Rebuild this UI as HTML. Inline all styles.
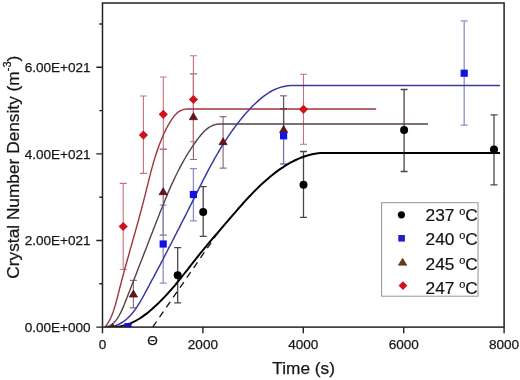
<!DOCTYPE html>
<html><head><meta charset="utf-8"><title>Crystal Number Density vs Time</title>
<style>html,body{margin:0;padding:0;background:#fff}svg{display:block}</style></head>
<body>
<svg width="520" height="380" viewBox="0 0 520 380">
<rect width="520" height="380" fill="#ffffff"/>
<defs><clipPath id="pc"><rect x="102.5" y="3.0" width="401.6" height="324.1"/></clipPath></defs>
<g clip-path="url(#pc)">
<path d="M133.4 280.4 V307.8 M129.9 280.4 H136.9 M129.9 307.8 H136.9" stroke="#8d6f76" stroke-width="1.2" fill="none"/>
<path d="M163.2 149.2 V235.1 M159.7 149.2 H166.7 M159.7 235.1 H166.7" stroke="#8d6f76" stroke-width="1.2" fill="none"/>
<path d="M193.4 73.9 V159.5 M189.9 73.9 H196.9 M189.9 159.5 H196.9" stroke="#8d6f76" stroke-width="1.2" fill="none"/>
<path d="M223.1 116.6 V168.2 M219.6 116.6 H226.6 M219.6 168.2 H226.6" stroke="#8d6f76" stroke-width="1.2" fill="none"/>
<path d="M123.2 183.4 V269.5 M119.7 183.4 H126.7 M119.7 269.5 H126.7" stroke="#c6727a" stroke-width="1.1" fill="none"/>
<path d="M143.4 96.0 V173.4 M139.9 96.0 H146.9 M139.9 173.4 H146.9" stroke="#c6727a" stroke-width="1.1" fill="none"/>
<path d="M163.3 77.0 V149.5 M159.8 77.0 H166.8 M159.8 149.5 H166.8" stroke="#c6727a" stroke-width="1.1" fill="none"/>
<path d="M193.4 55.8 V141.8 M189.9 55.8 H196.9 M189.9 141.8 H196.9" stroke="#c6727a" stroke-width="1.1" fill="none"/>
<path d="M303.5 74.2 V144.3 M300.0 74.2 H307.0 M300.0 144.3 H307.0" stroke="#c6727a" stroke-width="1.1" fill="none"/>
<path d="M163.2 205.2 V283.2 M159.7 205.2 H166.7 M159.7 283.2 H166.7" stroke="#8e8ec6" stroke-width="1.3" fill="none"/>
<path d="M193.4 168.7 V220.8 M189.9 168.7 H196.9 M189.9 220.8 H196.9" stroke="#8e8ec6" stroke-width="1.3" fill="none"/>
<path d="M283.6 108.9 V164.0 M280.1 108.9 H287.1 M280.1 164.0 H287.1" stroke="#7878b0" stroke-width="1.3" fill="none"/>
<path d="M464.2 20.8 V125.1 M460.7 20.8 H467.7 M460.7 125.1 H467.7" stroke="#8e8ec6" stroke-width="1.3" fill="none"/>
<path d="M283.6 95.7 V130 M280.2 95.7 H287" stroke="#5e5862" stroke-width="1.3" fill="none"/>
<path d="M280.2 95.7 H287" stroke="#9a8a8e" stroke-width="1.2" fill="none"/>
<path d="M280.2 108.9 H287" stroke="#34345e" stroke-width="1.3" fill="none"/>
<path d="M177.7 247.6 V302.9 M174.2 247.6 H181.2 M174.2 302.9 H181.2" stroke="#484848" stroke-width="1.3" fill="none"/>
<path d="M203.2 186.6 V236.3 M199.7 186.6 H206.7 M199.7 236.3 H206.7" stroke="#484848" stroke-width="1.3" fill="none"/>
<path d="M303.5 151.5 V217.4 M300.0 151.5 H307.0 M300.0 217.4 H307.0" stroke="#484848" stroke-width="1.3" fill="none"/>
<path d="M404.1 89.5 V171.5 M400.6 89.5 H407.6 M400.6 171.5 H407.6" stroke="#484848" stroke-width="1.3" fill="none"/>
<path d="M494.0 114.9 V184.8 M490.5 114.9 H497.5 M490.5 184.8 H497.5" stroke="#484848" stroke-width="1.3" fill="none"/>
<path d="M105.0 327.0 L106.9 324.6 L108.5 322.2 L109.9 319.6 L111.2 317.0 L112.3 314.2 L113.3 311.5 L114.2 308.6 L115.1 305.8 L115.9 302.9 L116.7 300.0 L117.5 297.0 L118.2 294.1 L119.0 291.1 L119.7 288.2 L120.5 285.3 L121.2 282.3 L122.0 279.4 L122.8 276.5 L123.6 273.7 L124.3 270.8 L125.1 267.9 L125.9 265.0 L126.7 262.2 L127.5 259.3 L128.3 256.5 L129.1 253.6 L129.9 250.8 L130.7 247.9 L131.5 245.1 L132.3 242.2 L133.1 239.4 L133.9 236.5 L134.7 233.7 L135.5 230.9 L136.3 228.0 L137.1 225.2 L137.9 222.3 L138.7 219.5 L139.4 216.6 L140.2 213.7 L141.0 210.9 L141.7 208.0 L142.5 205.1 L143.3 202.2 L144.0 199.3 L144.8 196.4 L145.5 193.5 L146.2 190.6 L146.9 187.6 L147.7 184.7 L148.4 181.8 L149.1 178.8 L149.9 175.9 L150.6 172.9 L151.4 170.0 L152.2 167.1 L153.0 164.2 L153.8 161.3 L154.7 158.4 L155.6 155.5 L156.5 152.7 L157.5 149.8 L158.5 147.0 L159.5 144.2 L160.6 141.4 L161.7 138.7 L162.9 136.0 L164.1 133.3 L165.4 130.6 L166.7 128.0 L168.1 125.4 L169.6 122.9 L171.1 120.4 L172.8 117.9 L174.5 115.7 L176.4 113.6 L178.6 111.8 L181.1 110.4 L183.8 109.4 L187.0 109.0 H376.2" stroke="#9e343c" stroke-width="1.4" fill="none" stroke-linejoin="round"/>
<path d="M106.5 327.0 L109.2 326.0 L111.6 324.5 L113.8 322.7 L115.7 320.6 L117.4 318.3 L119.0 315.8 L120.4 313.1 L121.8 310.4 L123.0 307.6 L124.2 304.7 L125.3 301.8 L126.5 298.9 L127.6 296.1 L128.7 293.2 L129.8 290.4 L130.9 287.5 L132.0 284.7 L133.1 281.9 L134.2 279.0 L135.3 276.2 L136.4 273.4 L137.5 270.6 L138.6 267.8 L139.6 265.1 L140.7 262.3 L141.8 259.5 L142.9 256.7 L143.9 254.0 L145.0 251.2 L146.1 248.4 L147.1 245.7 L148.2 242.9 L149.3 240.1 L150.3 237.4 L151.4 234.6 L152.5 231.9 L153.5 229.1 L154.6 226.4 L155.7 223.6 L156.8 220.8 L157.9 218.1 L159.0 215.3 L160.0 212.5 L161.1 209.8 L162.3 207.0 L163.4 204.2 L164.5 201.4 L165.6 198.7 L166.8 195.9 L167.9 193.1 L169.1 190.4 L170.3 187.6 L171.5 184.9 L172.8 182.1 L174.1 179.4 L175.3 176.7 L176.7 174.0 L178.0 171.3 L179.4 168.6 L180.8 165.9 L182.2 163.3 L183.7 160.7 L185.2 158.0 L186.7 155.4 L188.3 152.9 L189.9 150.3 L191.5 147.8 L193.2 145.3 L195.0 142.8 L196.7 140.3 L198.6 137.9 L200.5 135.5 L202.4 133.2 L204.5 131.0 L206.7 129.1 L209.0 127.4 L211.5 126.0 L214.1 124.9 L216.9 124.2 L220.0 124.0 H428.0" stroke="#56424a" stroke-width="1.4" fill="none" stroke-linejoin="round"/>
<path d="M109.0 327.0 L112.0 326.5 L114.9 325.8 L117.7 324.8 L120.3 323.5 L122.8 322.0 L125.1 320.3 L127.3 318.5 L129.4 316.4 L131.4 314.3 L133.3 312.0 L135.1 309.7 L136.8 307.2 L138.4 304.7 L140.0 302.1 L141.5 299.5 L143.0 296.8 L144.5 294.1 L145.9 291.4 L147.3 288.8 L148.8 286.1 L150.2 283.4 L151.6 280.7 L153.1 278.1 L154.5 275.4 L155.9 272.7 L157.3 270.1 L158.7 267.4 L160.1 264.8 L161.5 262.1 L162.9 259.5 L164.2 256.8 L165.6 254.2 L167.0 251.5 L168.3 248.9 L169.7 246.2 L171.1 243.6 L172.4 241.0 L173.8 238.3 L175.1 235.7 L176.5 233.1 L177.8 230.4 L179.2 227.8 L180.5 225.2 L181.8 222.5 L183.2 219.9 L184.5 217.3 L185.9 214.6 L187.2 212.0 L188.5 209.3 L189.8 206.7 L191.2 204.1 L192.5 201.4 L193.8 198.8 L195.1 196.1 L196.5 193.5 L197.8 190.8 L199.1 188.2 L200.5 185.5 L201.8 182.9 L203.1 180.2 L204.5 177.6 L205.9 174.9 L207.2 172.3 L208.6 169.7 L210.0 167.0 L211.4 164.4 L212.9 161.8 L214.3 159.2 L215.8 156.6 L217.3 154.0 L218.8 151.5 L220.3 148.9 L221.8 146.4 L223.4 143.8 L225.0 141.3 L226.6 138.8 L228.3 136.3 L230.0 133.9 L231.7 131.4 L233.4 129.0 L235.2 126.6 L237.0 124.2 L238.9 121.8 L240.7 119.4 L242.7 117.1 L244.6 114.8 L246.6 112.5 L248.7 110.3 L250.8 108.0 L252.9 105.8 L255.1 103.7 L257.3 101.6 L259.6 99.6 L261.9 97.7 L264.2 95.8 L266.7 94.1 L269.1 92.5 L271.7 91.0 L274.3 89.7 L276.9 88.6 L279.6 87.6 L282.4 86.8 L285.2 86.2 L288.1 85.8 L291.0 85.6 H500.0" stroke="#3a3aa4" stroke-width="1.5" fill="none" stroke-linejoin="round"/>
<path d="M115.0 327.0 L118.0 326.7 L120.9 326.2 L123.8 325.6 L126.6 324.8 L129.3 323.8 L132.0 322.6 L134.6 321.4 L137.1 320.0 L139.7 318.5 L142.1 316.9 L144.5 315.1 L146.9 313.4 L149.2 311.5 L151.5 309.6 L153.7 307.6 L155.9 305.6 L158.1 303.5 L160.2 301.4 L162.3 299.3 L164.4 297.1 L166.5 294.9 L168.5 292.6 L170.5 290.4 L172.5 288.1 L174.5 285.8 L176.4 283.5 L178.3 281.1 L180.2 278.8 L182.1 276.4 L184.0 274.0 L185.9 271.7 L187.8 269.3 L189.6 266.9 L191.5 264.5 L193.3 262.2 L195.2 259.8 L197.0 257.5 L198.9 255.2 L200.7 252.9 L202.6 250.6 L204.4 248.3 L206.3 246.1 L208.1 243.8 L210.0 241.6 L211.9 239.4 L213.8 237.2 L215.7 235.0 L217.6 232.8 L219.5 230.6 L221.4 228.4 L223.3 226.2 L225.2 223.9 L227.2 221.7 L229.1 219.4 L231.0 217.1 L233.0 214.9 L235.0 212.6 L236.9 210.3 L238.9 208.0 L240.9 205.8 L242.9 203.5 L245.0 201.2 L247.0 199.0 L249.1 196.8 L251.2 194.6 L253.3 192.4 L255.4 190.2 L257.6 188.1 L259.7 186.0 L261.9 183.9 L264.1 181.9 L266.4 179.9 L268.7 178.0 L271.0 176.1 L273.3 174.2 L275.6 172.4 L278.0 170.6 L280.4 168.9 L282.9 167.3 L285.3 165.7 L287.9 164.2 L290.4 162.7 L293.0 161.3 L295.6 160.0 L298.3 158.8 L300.9 157.7 L303.7 156.7 L306.5 155.7 L309.3 155.0 L312.1 154.3 L315.0 153.7 L318.0 153.3 L321.0 153.1 L324.0 153.0 H500.0" stroke="#000000" stroke-width="2.0" fill="none" stroke-linejoin="round"/>
<path d="M152.7 327.1 L219.7 230.1" stroke="#111" stroke-width="1.3" stroke-dasharray="6.8 5.2" fill="none"/>
<path d="M112.6 323.4 L116.8 330.4 L108.4 330.4Z" fill="#6e0f1a" stroke="#3a0508" stroke-width="0.6"/>
<rect x="124.4" y="323.1" width="7.2" height="7.2" fill="#1212e2"/>
<circle cx="177.7" cy="275.2" r="4.0" fill="#000"/>
<circle cx="203.2" cy="212.1" r="4.0" fill="#000"/>
<circle cx="303.5" cy="184.8" r="4.0" fill="#000"/>
<circle cx="404.1" cy="129.9" r="4.0" fill="#000"/>
<circle cx="494.0" cy="149.4" r="4.0" fill="#000"/>
<path d="M133.4 290.1 L137.6 297.1 L129.2 297.1Z" fill="#6e0f1a" stroke="#3a0508" stroke-width="0.6"/>
<path d="M163.2 187.7 L167.3 194.7 L159.0 194.7Z" fill="#6e0f1a" stroke="#3a0508" stroke-width="0.6"/>
<path d="M193.4 112.7 L197.6 119.7 L189.2 119.7Z" fill="#6e0f1a" stroke="#3a0508" stroke-width="0.6"/>
<path d="M223.1 137.7 L227.2 144.7 L218.9 144.7Z" fill="#6e0f1a" stroke="#3a0508" stroke-width="0.6"/>
<path d="M283.6 125.5 L287.8 132.5 L279.5 132.5Z" fill="#6e0f1a" stroke="#3a0508" stroke-width="0.6"/>
<rect x="159.6" y="240.4" width="7.2" height="7.2" fill="#1212e2"/>
<rect x="189.8" y="190.9" width="7.2" height="7.2" fill="#1212e2"/>
<rect x="280.0" y="132.2" width="7.2" height="7.2" fill="#1212e2"/>
<rect x="460.6" y="69.6" width="7.2" height="7.2" fill="#1212e2"/>
<path d="M123.2 221.9 L127.8 226.5 L123.2 231.1 L118.6 226.5Z" fill="#d0101c"/>
<path d="M143.4 130.5 L148.0 135.1 L143.4 139.7 L138.8 135.1Z" fill="#d0101c"/>
<path d="M163.3 109.7 L167.9 114.3 L163.3 118.9 L158.7 114.3Z" fill="#d0101c"/>
<path d="M193.4 94.9 L198.0 99.5 L193.4 104.1 L188.8 99.5Z" fill="#d0101c"/>
<path d="M303.5 104.7 L308.1 109.3 L303.5 113.9 L298.9 109.3Z" fill="#d0101c"/>
</g>
<rect x="102.5" y="3.0" width="401.6" height="324.1" fill="none" stroke="#222" stroke-width="1.5"/>
<path d="M102.50 327.1 V333.3 M202.90 327.1 V333.3 M303.30 327.1 V333.3 M403.70 327.1 V333.3 M504.10 327.1 V333.3 M102.5 327.10 H96.3 M102.5 240.50 H96.3 M102.5 153.90 H96.3 M102.5 67.30 H96.3 M102.5 283.80 H99.3 M102.5 197.20 H99.3 M102.5 110.60 H99.3 M102.5 24.00 H99.3 " stroke="#222" stroke-width="1.4" fill="none"/>
<g font-family="'Liberation Sans', Arial, sans-serif" font-size="13.55" fill="#161616" stroke="#161616" stroke-width="0.25">
<text x="102.5" y="348.6" text-anchor="middle">0</text>
<text x="202.9" y="348.6" text-anchor="middle">2000</text>
<text x="303.3" y="348.6" text-anchor="middle">4000</text>
<text x="403.7" y="348.6" text-anchor="middle">6000</text>
<text x="504.1" y="348.6" text-anchor="middle">8000</text>
<text x="90.6" y="332.0" text-anchor="end">0.00E+000</text>
<text x="90.6" y="245.4" text-anchor="end">2.00E+021</text>
<text x="90.6" y="158.8" text-anchor="end">4.00E+021</text>
<text x="90.6" y="72.2" text-anchor="end">6.00E+021</text>
<text x="152.5" y="345" text-anchor="middle">Θ</text>
</g>
<g font-family="'Liberation Sans', Arial, sans-serif" font-size="17.3" fill="#161616" stroke="#161616" stroke-width="0.25">
<text x="303.6" y="373.8" text-anchor="middle">Time (s)</text>
<text transform="translate(18.8 167.2) rotate(-90)" text-anchor="middle">Crystal Number Density (m<tspan font-size="11" dy="-7.5">-3</tspan><tspan dy="7.5">)</tspan></text>
</g>
<rect x="381.6" y="202.7" width="96.4" height="93.5" fill="#fff" stroke="#949494" stroke-width="1"/>
<circle cx="401.4" cy="214.8" r="3.6" fill="#000"/>
<rect x="398.3" y="235.0" width="6.6" height="6.6" fill="#1a22c8"/>
<path d="M402.6 258.2 L406.9 265.2 L398.3 265.2Z" fill="#6b3a14" stroke="#3a2008" stroke-width="0.5"/>
<path d="M403.0 281.2 L407.4 285.6 L403.0 290.0 L398.6 285.6Z" fill="#d0101c"/>
<g font-family="'Liberation Sans', Arial, sans-serif" font-size="17.3" fill="#111" stroke="#111" stroke-width="0.2">
<text x="425.6" y="220.9">237 <tspan font-size="11" dy="-6">o</tspan><tspan dy="6">C</tspan></text>
<text x="425.6" y="245.2">240 <tspan font-size="11" dy="-6">o</tspan><tspan dy="6">C</tspan></text>
<text x="425.6" y="269.5">245 <tspan font-size="11" dy="-6">o</tspan><tspan dy="6">C</tspan></text>
<text x="425.6" y="293.8">247 <tspan font-size="11" dy="-6">o</tspan><tspan dy="6">C</tspan></text>
</g>
</svg>
</body></html>
